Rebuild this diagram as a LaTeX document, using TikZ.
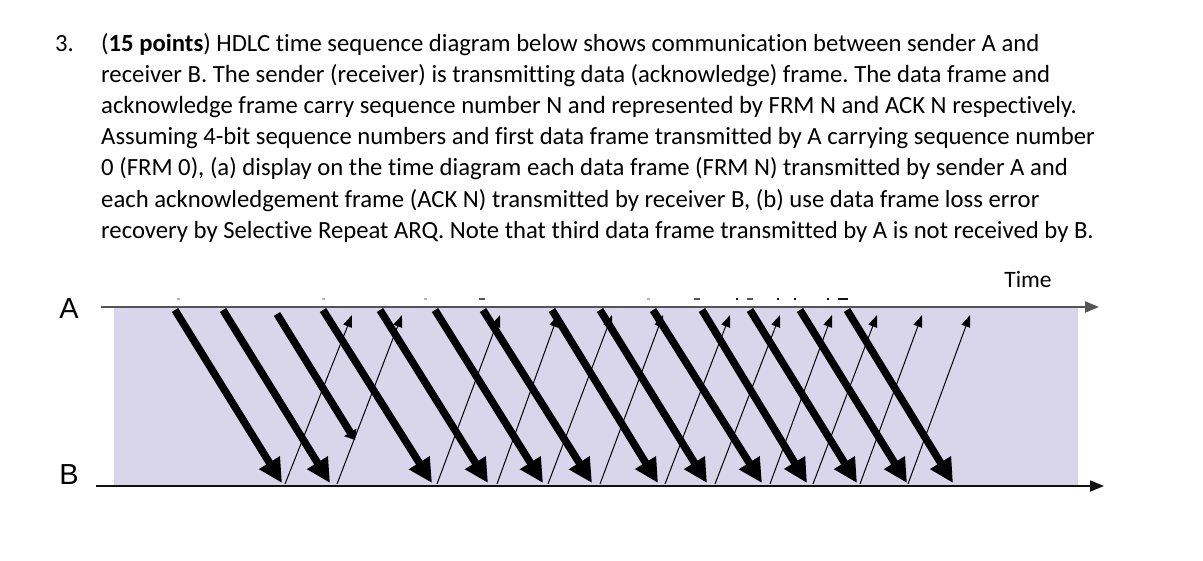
\documentclass[tikz,border=0pt]{standalone}
\usepackage{fontspec}
\setmainfont{Carlito}[Ligatures=NoCommon]
\newfontfamily\labelfont{Liberation Sans}
\usetikzlibrary{arrows.meta}
\definecolor{hdshade}{HTML}{D9D6EC}
\definecolor{hdline}{HTML}{555555}
\definecolor{hdink}{HTML}{111111}
\definecolor{hdfaint}{HTML}{B4B4B4}
\tikzset{
  qline/.style={anchor=base west,inner sep=0pt,font=\fontsize{24.7}{31}\selectfont},
  frmline/.style={draw=black,line width=7.5pt,-{Triangle[length=24pt,width=23pt]}},
  ackline/.style={draw=black,line width=1pt,-{Triangle[length=12pt,width=9pt]}},
}
% data frame, A to B
\newcommand{\frm}[3]{%
  \coordinate (frm#1a) at (#2,310);
  \coordinate (frm#1b) at (#3,483);
  \draw[frmline] (frm#1a) -- (frm#1b);
}
% acknowledge frame, B to A
\newcommand{\ack}[3]{%
  \coordinate (ack#1a) at (#2,484);
  \coordinate (ack#1b) at (#3,315);
  \draw[ackline] (ack#1a) -- (ack#1b);
}

\begin{document}
\frenchspacing
\begin{tikzpicture}[x=1pt,y=-1pt]
\useasboundingbox (0,0) rectangle (1203,560);
\fill[white] (0,0) rectangle (1203,560);

% question text
\node[qline] (num) at (55,51) {3.};
\node[qline] (q1) at (101,51) {(\textbf{15 points}) HDLC time sequence diagram below shows communication between sender A and};
\node[qline] (q2) at (101,82.2) {receiver B. The sender (receiver) is transmitting data (acknowledge) frame. The data frame and};
\node[qline] (q3) at (101,113.4) {acknowledge frame carry sequence number N and represented by FRM N and ACK N respectively.};
\node[qline] (q4) at (101,144.6) {Assuming 4-bit sequence numbers and first data frame transmitted by A carrying sequence number};
\node[qline] (q5) at (101,175.8) {0 (FRM 0), (a) display on the time diagram each data frame (FRM N) transmitted by sender A and};
\node[qline] (q6) at (101,207) {each acknowledgement frame (ACK N) transmitted by receiver B, (b) use data frame loss error};
\node[qline] (q7) at (101,238.2) {recovery by Selective Repeat ARQ. Note that third data frame transmitted by A is not received by B.};

% time axes
\fill[hdshade] (114,307) rectangle (1078,486);
\coordinate (aleft) at (101,307);
\coordinate (aright) at (1099,307);
\coordinate (bleft) at (96,486);
\coordinate (bright) at (1104,486);
\draw[hdline,line width=2.2pt,-{Triangle[length=14pt,width=11pt]}] (aleft) -- (aright);
\draw[hdink,line width=1.8pt,-{Triangle[length=14pt,width=11pt]}] (bleft) -- (bright);
\node[font=\labelfont\fontsize{29}{31}\selectfont] (alabel) at (69,309) {A};
\node[font=\labelfont\fontsize{29}{31}\selectfont] (blabel) at (69,475) {B};
\node[font=\fontsize{23.5}{26}\selectfont] (timelabel) at (1028,279) {Time};

% leftover marks above A
\foreach \x/\w/\c in {178/3/hdfaint,323/3/hdfaint,425/3/hdfaint,482/6/hdline,
  648/3/hdfaint,697/6/hdline,737/2/hdink,750/6/hdline,778/2/hdink,
  795/2/hdink,828/2/hdink,843/10/hdink}
  \draw[\c,line width=1.3pt] (\x-\w/2,299) -- (\x+\w/2,299);

% data frames
\frm{0}{175}{282}
\frm{1}{223}{330}
\frm{3}{323}{432}
\frm{4}{380}{488}
\frm{5}{435}{543}
\frm{6}{483}{592}
\frm{7}{552}{658}
\frm{8}{600}{707}
\frm{9}{653}{762}
\frm{10}{702}{807}
\frm{11}{750}{857}
\frm{12}{800}{907}
\frm{13}{847}{953}
% lost frame
\coordinate (frm2a) at (277,314);
\coordinate (frm2b) at (355,440);
\draw[draw=black,line width=7.5pt,-{Triangle[length=9pt,width=14pt]}] (frm2a) -- (frm2b);

% acknowledge frames
\ack{0}{285}{352}
\ack{1}{337}{402}
\ack{2}{437}{500}
\ack{3}{497}{558}
\ack{4}{548}{612}
\ack{5}{600}{663}
\ack{6}{665}{730}
\ack{7}{715}{780}
\ack{8}{770}{832}
\ack{9}{813}{877}
\ack{10}{860}{922}
\ack{11}{908}{970}

\end{tikzpicture}
\end{document}
